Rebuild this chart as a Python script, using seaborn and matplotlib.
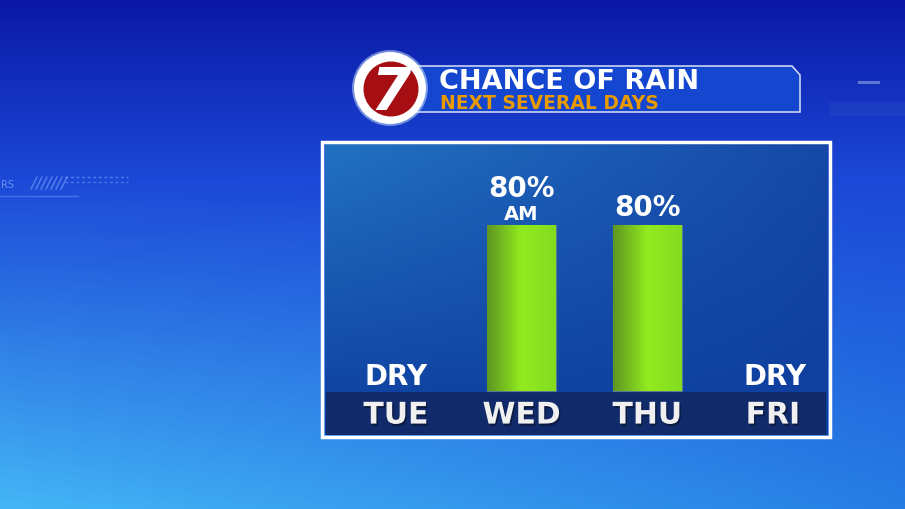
import numpy as np
import pandas as pd
import seaborn as sns
import matplotlib.pyplot as plt
from matplotlib.patches import Rectangle, Circle, Polygon
import matplotlib.patheffects as pe

# ------------------- Data -------------------
days = ['TUE', 'WED', 'THU', 'FRI']
rain_pct = [0, 80, 80, 0]
top_labels = ['DRY', '80%', '80%', 'DRY']
sub_labels = ['', 'AM', '', '']
title = 'CHANCE OF RAIN'
subtitle = 'NEXT SEVERAL DAYS'

df = pd.DataFrame({'day': days, 'pct': rain_pct})

W, H = 905, 510
fig = plt.figure(figsize=(W / 100, H / 100), dpi=100)

# ------------------- Background -------------------
bg = fig.add_axes([0, 0, 1, 1])
bg.set_xlim(0, W)
bg.set_ylim(H, 0)
bg.axis('off')

yy, xx = np.mgrid[0:1:200j, 0:1:360j]
t = yy[..., None]
s = xx[..., None]
c_top = np.array([10, 24, 165]) / 255
c_mid = np.array([28, 72, 215]) / 255
c_bl = np.array([68, 182, 246]) / 255
c_br = np.array([38, 125, 228]) / 255
bottom = c_bl * (1 - s) + c_br * s
img = np.where(t < 0.35, c_top * (1 - t / 0.35) + c_mid * (t / 0.35),
               c_mid * (1 - (t - 0.35) / 0.65) + bottom * ((t - 0.35) / 0.65))
bg.imshow(np.clip(img, 0, 1), extent=[0, W, H, 0], aspect='auto', zorder=0)

# faint decorations
for k in range(7):
    bg.plot([31 + k * 5, 37 + k * 5], [190, 178], color='#8fb8ff', lw=1, alpha=0.5, zorder=0.5)
bg.plot([65, 128], [178, 178], color='#8fb8ff', lw=1, ls=(0, (2, 2)), alpha=0.5, zorder=0.5)
bg.plot([65, 128], [183, 183], color='#8fb8ff', lw=1, ls=(0, (2, 2)), alpha=0.4, zorder=0.5)
bg.plot([0, 78], [197, 197], color='#8fb8ff', lw=1, alpha=0.35, zorder=0.5)
bg.text(1, 185, 'RS', color='#9fc0ff', fontsize=7, alpha=0.6, va='center', zorder=0.5)
bg.add_patch(Rectangle((858, 82), 22, 3, facecolor='#8fa8e0', alpha=0.6, zorder=0.5))
bg.add_patch(Rectangle((830, 103), 75, 14, facecolor='#4060c8', alpha=0.2, zorder=0.5))

# panel
bg.add_patch(Rectangle((322, 143), 508, 295, facecolor='none', edgecolor='white', lw=2.5, zorder=2))
py, px = np.mgrid[0:1:100j, 0:1:200j]
p_tl = np.array([34, 114, 194]) / 255
p_tr = np.array([22, 72, 168]) / 255
p_b = np.array([14, 62, 158]) / 255
pan = (p_tl * (1 - px[..., None]) + p_tr * px[..., None]) * (1 - py[..., None]) + p_b * py[..., None]
bg.imshow(pan, extent=[325, 827, 436, 145], aspect='auto', zorder=1)
bg.add_patch(Rectangle((326, 393), 500, 43, facecolor='#112a6a', edgecolor='none', zorder=1.5))

# banner
bg.add_patch(Polygon([(405, 67), (792, 67), (800, 76), (800, 113), (405, 113)],
                     closed=True, facecolor='#1546d0', edgecolor='#c8d4f0', lw=1.2, zorder=3))
bg.text(439, 89, title, color='white', fontsize=19.5, fontweight='bold', family='DejaVu Sans',
        va='baseline', zorder=5)
bg.text(440, 109, subtitle, color='#e89a00', fontsize=13.5, fontweight='bold', family='DejaVu Sans',
        va='baseline', zorder=5)

# logo
bg.add_patch(Circle((390, 89), 38, facecolor='#cfe8ff', edgecolor='none', alpha=0.5, zorder=4))
bg.add_patch(Circle((390, 89), 36, facecolor='white', edgecolor='none', zorder=4))
bg.add_patch(Circle((391, 90), 27.5, facecolor='#a50f14', edgecolor='none', zorder=4.5))
bg.text(391, 93, '7', color='white', fontsize=42, fontweight='bold', style='italic',
        family='DejaVu Sans', ha='center', va='center', zorder=5)

# ------------------- Chart -------------------
ax = fig.add_axes([327 / W, 1 - 436 / H, 498 / W, 290 / H])
ax.patch.set_alpha(0)
sns.barplot(data=df, x='day', y='pct', width=0.549, color='#8fe020', ax=ax, zorder=3,
            edgecolor='#5a7a90', linewidth=0.8)
ax.set_xlim(-0.549, 3.414)
ax.set_ylim(-21.2, 118.6)
ax.axis('off')

# gradient fill on each bar
grad = np.linspace(0, 1, 64)
bar_img = np.array([np.interp(grad, [0, 0.5, 1], [95, 145, 132]),
                    np.interp(grad, [0, 0.5, 1], [150, 235, 220]),
                    np.interp(grad, [0, 0.5, 1], [35, 30, 32])]).T / 255
for p in ax.patches:
    if p.get_height() > 0:
        x0, w, h = p.get_x(), p.get_width(), p.get_height()
        im = ax.imshow(bar_img[None, :, :], extent=[x0, x0 + w, 0, h], aspect='auto', zorder=3.5)
        im.set_clip_path(p)
    else:
        p.set_visible(False)

day_fx = [pe.withSimplePatchShadow(offset=(1, -1.5), shadow_rgbFace='black', alpha=0.4)]
for i, d in enumerate(days):
    ax.text(i, -11.6, d, color='#f0f0f0', fontsize=21.5, fontweight='bold', family='DejaVu Sans',
            ha='center', va='center', zorder=5, path_effects=day_fx)
    v = rain_pct[i]
    if v > 0:
        y_top = v + 8.5 if sub_labels[i] == '' else v + 18
        ax.text(i, y_top, top_labels[i], color='white', fontsize=20, fontweight='bold',
                family='DejaVu Sans', ha='center', va='center', zorder=5)
        if sub_labels[i]:
            ax.text(i, v + 5.8, sub_labels[i], color='white', fontsize=14, fontweight='bold',
                    family='DejaVu Sans', ha='center', va='center', zorder=5)
    else:
        ax.text(i + (0.02 if i == 3 else 0), 7.2, top_labels[i], color='white', fontsize=20,
                fontweight='bold', family='DejaVu Sans', ha='center', va='center', zorder=5)

fig.savefig('out.png', dpi=100)
